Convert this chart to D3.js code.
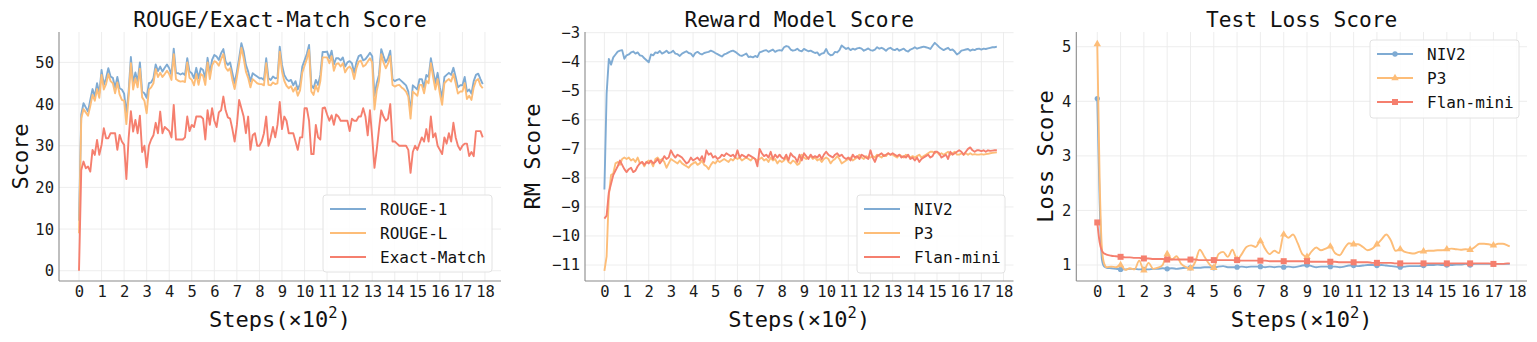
<!DOCTYPE html>
<html><head><meta charset="utf-8">
<script src="https://cdn.jsdelivr.net/npm/d3@7"></script>
<style>body{margin:0;background:#fff}svg{display:block}</style>
</head><body><svg id="c" width="1537" height="342"></svg>
<script>
// ---------- data ----------
const xTicks = [0,1,2,3,4,5,6,7,8,9,10,11,12,13,14,15,16,17,18];
const colors = {blue:"#7fabd3", orange:"#fdbd78", red:"#f57f6e"};

// Panel 1: steps in units of 100 (every 10 steps)
const rougeSteps = d3.range(180).map(i => i / 10);
const rouge1 = [
12,37.5,40.2,39.2,38.2,41,43.6,41.8,45,42.6,
48.2,44.6,46.2,48.6,46.6,46.3,43.9,46.5,43.8,43.5,
42.5,37.8,43,51.3,45,47.6,45.4,50,43,42.6,
41.5,45,45.2,46.2,49.5,47.9,49,47.8,48.7,49.5,
48.6,47,53.3,47.5,47.4,47.1,47.4,47,51,47.8,
47.4,46.2,48.7,46.2,48.6,48.2,46.2,51.1,47.4,50.6,
51.8,51.4,50.6,52.2,53.2,50.2,49.4,50,47.4,45,
47.8,51,54.6,52.6,49.4,47.8,45.4,47.4,47,46.6,
46.2,46.2,45.8,51,46.2,45.8,46.6,46.2,46.3,53.8,
49.4,47,46,45.5,45.8,44.5,45.5,43.5,44.8,49,
50.5,52,54.2,44.6,43.8,45.8,44.6,47,52.5,52.5,
52.6,51,52.8,49.5,51,51,50.5,51.2,49,50,
50.3,49.8,47.5,50,51.5,51.8,50.5,50.8,51.5,52.3,
51.5,42,45,47,53.2,51.5,50,51,52.8,46,
45.5,45.8,46,45.5,45,44.5,43,38,44.5,44,
43.5,46,46,44,47,46.5,51,48,45,47.5,
44,41.5,46.5,47,47.5,47,48.7,46.5,44,44.5,
44.5,46.5,43,43.5,42.5,45.5,47,47.3,46,44.8];
const rougeL = [
9,36.5,38.8,38,37.2,39.5,42.2,40.8,43.6,41.5,
47,43.5,44.8,47.2,45.5,45,42.6,45.2,42.3,41,
40.8,35.2,41.8,49.8,43.5,46.2,44,48.5,41.6,40.8,
37.8,43.5,44,45,48.4,46.5,47.5,46.5,47.2,48,
47.2,45.8,52,46,45.6,45.4,45.5,45.3,50,46.3,
45.8,44.5,47.2,44.6,47.2,46.8,44.6,50,46,49.3,
50.3,50,49.2,50.8,52,48.8,48,48.6,45.8,43.6,
46.5,49.8,53.5,51,47.8,46.3,44,46,45.5,45,
44.8,44.8,44.5,49.8,44.6,44.5,45.2,44.8,45,52.6,
47.8,45.6,44.4,43.8,44.3,43,44,42,43.3,47.5,
49.2,50.8,53,43,42.2,44.5,43,45.5,51.2,51.2,
51.2,49.8,51.5,48,49.6,49.8,49,49.8,47.6,48.6,
49,48.3,46,48.6,50.2,50.4,49,49.4,50.2,51,
50,38.7,43.2,45.6,52,50,48.6,49.7,51.5,44.6,
44.2,44.5,44.6,44,43.6,43,41.8,36.5,43,42.5,
42,44.6,44.6,42.6,45.6,45,49.8,46.5,43.5,46,
42.5,39.8,45,45.6,46,45.4,47.2,45,42.5,43,
43,45,41.2,42,41,44,45.6,46,44.5,43.8];
const exactMatch = [
0,24.2,26.2,24.6,25,23.8,29,27.8,31.4,27.8,
30.2,34.2,31.8,31.8,33,33,33,29,32.6,31,
30.2,22,31.8,38.3,33.4,36.2,33,37.2,28.5,30,
24.8,30,31.5,32.5,35.5,33,38.2,33,34.5,34,
33.5,32,39.8,31.5,31.5,31.5,31.5,32,37,33.5,
35,34.5,37,37,37,36.5,31.5,38.5,35,39,
36,34.5,38,38.5,41.8,38.5,36.8,36.5,34,31,
35,41,39,37,33,37,29,32.5,33,30,
30,31,33,37,30,32,34.5,32,35,40.5,
34,37,36,33,33,33,31,29,32,32,
39,39,36,28,28,35,32,31.5,39,39.2,
37.5,36,37.3,35,37.5,37,36,36,36,36,
33.5,36.5,36,36,37,37,39,37,32.5,38.5,
32,24.7,29,34,38.5,37,36,36.5,40,31,
31,30.5,30,30,30,30,29,23.5,28.5,30,
29,30.5,32,31,34,31,37,32,33,30,
29,28,32,30.5,33,31,35.5,32,30,29,
30,30.5,30.5,27.5,28.5,27.5,33.5,33.5,33.5,32];

// Panel 2: reward model score
const rmSteps = d3.range(178).map(i => i / 10);
const rmNIV2 = [
-8.4,-5.1,-3.9,-4.1,-3.85,-3.75,-3.65,-3.62,-3.6,-3.9,
-3.78,-3.75,-3.68,-3.65,-3.72,-3.68,-3.78,-3.8,-3.88,-3.95,
-4.02,-3.75,-3.78,-3.68,-3.7,-3.63,-3.72,-3.68,-3.62,-3.7,
-3.68,-3.62,-3.72,-3.74,-3.8,-3.72,-3.68,-3.64,-3.7,-3.72,
-3.82,-3.7,-3.66,-3.72,-3.75,-3.7,-3.68,-3.66,-3.62,-3.65,
-3.7,-3.74,-3.78,-3.82,-3.75,-3.72,-3.68,-3.64,-3.62,-3.66,
-3.72,-3.78,-3.8,-3.76,-3.72,-3.84,-3.82,-3.85,-3.8,-3.84,
-3.68,-3.65,-3.62,-3.6,-3.66,-3.62,-3.58,-3.66,-3.62,-3.6,
-3.62,-3.5,-3.46,-3.48,-3.58,-3.62,-3.6,-3.55,-3.62,-3.64,
-3.56,-3.6,-3.64,-3.62,-3.66,-3.7,-3.68,-3.78,-3.72,-3.7,
-3.56,-3.72,-3.78,-3.76,-3.66,-3.68,-3.6,-3.44,-3.5,-3.56,
-3.52,-3.6,-3.55,-3.58,-3.54,-3.52,-3.55,-3.62,-3.58,-3.54,
-3.6,-3.62,-3.58,-3.5,-3.55,-3.52,-3.56,-3.62,-3.55,-3.52,
-3.58,-3.6,-3.55,-3.62,-3.58,-3.55,-3.62,-3.65,-3.58,-3.55,
-3.5,-3.55,-3.52,-3.5,-3.48,-3.5,-3.52,-3.56,-3.45,-3.35,
-3.42,-3.5,-3.55,-3.6,-3.56,-3.52,-3.6,-3.58,-3.65,-3.75,
-3.7,-3.62,-3.6,-3.58,-3.56,-3.62,-3.58,-3.6,-3.56,-3.55,
-3.58,-3.55,-3.56,-3.54,-3.52,-3.5,-3.5,-3.48];
const rmP3 = [
-11.2,-10.7,-8.6,-7.9,-7.85,-7.5,-7.45,-7.55,-7.35,-7.3,
-7.35,-7.3,-7.4,-7.35,-7.45,-7.3,-7.5,-7.45,-7.6,-7.45,
-7.4,-7.45,-7.6,-7.35,-7.3,-7.4,-7.35,-7.45,-7.65,-7.5,
-7.35,-7.4,-7.45,-7.5,-7.4,-7.5,-7.55,-7.6,-7.65,-7.55,
-7.5,-7.45,-7.55,-7.5,-7.4,-7.55,-7.6,-7.7,-7.55,-7.45,
-7.5,-7.4,-7.45,-7.4,-7.35,-7.4,-7.45,-7.35,-7.4,-7.3,
-7.35,-7.3,-7.4,-7.35,-7.3,-7.35,-7.4,-7.3,-7.35,-7.4,
-7.35,-7.3,-7.4,-7.35,-7.45,-7.3,-7.4,-7.35,-7.5,-7.4,
-7.45,-7.4,-7.3,-7.45,-7.5,-7.4,-7.45,-7.55,-7.5,-7.2,
-7.3,-7.35,-7.3,-7.25,-7.35,-7.3,-7.4,-7.35,-7.45,-7.35,
-7.3,-7.35,-7.5,-7.4,-7.35,-7.25,-7.35,-7.5,-7.45,-7.4,
-7.35,-7.3,-7.4,-7.35,-7.3,-7.2,-7.3,-7.35,-7.25,-7.3,
-7.3,-7.25,-7.3,-7.2,-7.25,-7.3,-7.2,-7.25,-7.15,-7.2,
-7.2,-7.25,-7.3,-7.2,-7.25,-7.3,-7.2,-7.25,-7.3,-7.25,
-7.3,-7.25,-7.2,-7.3,-7.25,-7.2,-7.15,-7.1,-7.1,-7.15,
-7.1,-7.2,-7.15,-7.2,-7.15,-7.1,-7.2,-7.15,-7.1,-7.2,
-7.2,-7.15,-7.2,-7.15,-7.2,-7.15,-7.2,-7.18,-7.2,-7.2,
-7.18,-7.2,-7.18,-7.17,-7.15,-7.14,-7.13,-7.12];
const rmFlan = [
-9.4,-9.3,-8.5,-8.2,-7.9,-7.75,-7.6,-7.4,-7.55,-7.7,
-7.8,-7.7,-7.65,-7.8,-7.75,-7.6,-7.5,-7.45,-7.55,-7.45,
-7.5,-7.4,-7.5,-7.45,-7.35,-7.5,-7.4,-7.25,-7.35,-7.3,
-7.05,-7.2,-7.3,-7.2,-7.25,-7.3,-7.4,-7.5,-7.45,-7.3,
-7.4,-7.35,-7.3,-7.4,-7.25,-7.45,-7.05,-7.2,-7.15,-7.3,
-7.25,-7.35,-7.3,-7.2,-7.25,-7.15,-7.2,-7.25,-7.2,-7.3,
-7.05,-7.3,-7.2,-7.25,-7.3,-7.2,-7.25,-7.3,-7.35,-7.6,
-7.0,-7.15,-7.25,-7.2,-7.3,-7.1,-7.35,-7.2,-7.3,-7.2,
-7.3,-7.35,-7.2,-7.4,-7.15,-7.25,-7.3,-7.45,-7.2,-7.4,
-7.15,-7.25,-7.35,-7.2,-7.3,-7.25,-7.3,-7.2,-7.35,-7.2,
-7.1,-7.2,-7.25,-7.3,-7.2,-7.15,-7.25,-7.2,-7.3,-7.35,
-7.3,-7.4,-7.2,-7.3,-7.25,-7.35,-7.2,-7.25,-7.3,-7.35,
-7.05,-7.3,-7.45,-7.25,-7.2,-7.15,-7.25,-7.2,-7.15,-7.2,
-7.15,-7.2,-7.25,-7.2,-7.3,-7.25,-7.3,-7.2,-7.35,-7.3,
-7.4,-7.3,-7.45,-7.35,-7.3,-7.25,-7.2,-7.3,-7.25,-7.1,
-7.1,-7.15,-7.3,-7.25,-7.2,-7.35,-7.1,-7.2,-7.15,-7.1,
-7.05,-7.1,-7.2,-7.1,-7.0,-6.95,-7.05,-7.1,-7.05,-7.05,
-7.08,-7.05,-7.1,-7.05,-7.07,-7.06,-7.05,-7.05];

// Panel 3: test loss
const lossSteps = [0,0.1,0.2,0.3,0.4,0.6,0.8,1,1.2,1.4,1.6,1.8,2,2.2,2.4,2.6,2.8,3,3.2,3.4,3.6,3.8,4,4.2,4.4,4.6,4.8,5,5.2,5.4,5.6,5.8,6,6.2,6.4,6.6,6.8,7,7.2,7.4,7.6,7.8,8,8.2,8.4,8.6,8.8,9,9.2,9.4,9.6,9.8,10,10.2,10.4,10.6,10.8,11,11.2,11.4,11.6,11.8,12,12.2,12.4,12.6,12.8,13,13.2,13.4,13.6,13.8,14,14.2,14.4,14.6,14.8,15,15.2,15.4,15.6,15.8,16,16.2,16.4,16.6,16.8,17,17.2,17.4,17.6,17.7];
const lossNIV2 = [4.05,2.2,1.1,0.97,0.95,0.94,0.93,0.92,0.92,0.93,0.93,0.92,0.92,0.92,0.93,0.93,0.94,0.93,0.94,0.93,0.94,0.95,0.95,0.95,0.95,0.96,0.96,0.95,0.97,0.98,0.96,0.96,0.96,0.97,0.96,0.97,0.97,0.97,0.96,0.97,0.96,0.97,0.96,0.97,0.96,0.97,0.99,1.0,0.98,0.96,0.97,0.97,0.97,0.97,0.96,0.97,0.99,0.99,0.98,0.99,1.0,1.0,0.99,1.0,0.99,0.98,0.97,0.96,0.97,0.98,0.98,0.98,0.99,1.0,1.0,1.01,1.0,1.0,1.0,1.01,1.01,1.02,1.0,1.02,1.02,1.02,1.02,1.02,1.02,1.02,1.02,1.02];
const lossP3 = [5.05,2.6,1.3,1.02,0.96,0.97,0.96,1.0,0.91,0.94,0.92,1.08,0.9,1.04,0.93,0.95,1.0,1.2,1.1,1.16,1.02,0.96,0.94,1.05,1.28,1.15,1.02,0.95,1.2,1.24,1.15,1.28,1.1,1.2,1.33,1.36,1.33,1.44,1.3,1.2,1.26,1.22,1.56,1.5,1.56,1.4,1.2,1.15,1.25,1.32,1.27,1.3,1.34,1.22,1.18,1.3,1.4,1.38,1.38,1.33,1.27,1.3,1.38,1.47,1.56,1.45,1.26,1.29,1.24,1.22,1.21,1.24,1.25,1.26,1.26,1.27,1.27,1.29,1.3,1.29,1.28,1.29,1.28,1.33,1.39,1.39,1.38,1.36,1.39,1.39,1.36,1.34];
const lossFlan = [1.78,1.42,1.26,1.21,1.19,1.17,1.16,1.15,1.14,1.14,1.13,1.13,1.12,1.12,1.11,1.11,1.11,1.1,1.1,1.1,1.1,1.1,1.1,1.1,1.09,1.09,1.09,1.09,1.09,1.09,1.09,1.09,1.09,1.08,1.08,1.08,1.08,1.08,1.08,1.07,1.07,1.07,1.07,1.07,1.07,1.07,1.07,1.07,1.06,1.06,1.06,1.06,1.06,1.06,1.05,1.05,1.05,1.05,1.05,1.05,1.05,1.04,1.04,1.04,1.04,1.04,1.03,1.03,1.03,1.03,1.03,1.03,1.03,1.03,1.03,1.03,1.03,1.03,1.03,1.03,1.03,1.03,1.03,1.03,1.03,1.03,1.03,1.02,1.02,1.02,1.03,1.03];

const ticks1 = [0,10,20,30,40,50];
const ticks2 = [-11,-10,-9,-8,-7,-6,-5,-4,-3];
const ticks3 = [1,2,3,4,5];

// ---------- drawing ----------
const svg = d3.select("#c");
const MONO = "'DejaVu Sans Mono', monospace";

function panel(cfg) {
  const g = svg.append("g");
  const x = d3.scaleLinear().domain(cfg.xDomain).range([cfg.left, cfg.right]);
  const y = d3.scaleLinear().domain(cfg.yDomain).range([cfg.bottom, cfg.top]);

  // grid
  g.append("g").selectAll("line").data(xTicks).join("line")
    .attr("x1", d => x(d)).attr("x2", d => x(d)).attr("y1", cfg.top).attr("y2", cfg.bottom)
    .attr("stroke", "#ebebeb").attr("stroke-width", 0.9);
  g.append("g").selectAll("line").data(cfg.yTicks).join("line")
    .attr("x1", cfg.left).attr("x2", cfg.right).attr("y1", d => y(d)).attr("y2", d => y(d))
    .attr("stroke", "#ebebeb").attr("stroke-width", 0.9);

  // axes
  const xa = g.append("g").attr("transform", `translate(0,${cfg.bottom})`)
    .call(d3.axisBottom(x).tickValues(xTicks).tickSize(0).tickPadding(5).tickFormat(d3.format("d")));
  const ya = g.append("g").attr("transform", `translate(${cfg.left},0)`)
    .call(d3.axisLeft(y).tickValues(cfg.yTicks).tickSize(0).tickPadding(5).tickFormat(d3.format("d")));
  [xa, ya].forEach(a => {
    a.select(".domain").attr("stroke", "#8a8a8a").attr("stroke-width", 1.1);
    a.selectAll("text").attr("font-family", MONO).attr("font-size", 15.5).attr("fill", "#1a1a1a");
  });
  xa.select(".domain").attr("d", `M${cfg.left},0H${cfg.right}`);
  ya.select(".domain").attr("d", `M0,${cfg.top}V${cfg.bottom}`);

  // lines
  cfg.series.forEach(s => {
    const pts = s.xs.map((v, i) => [v, s.ys[i]]);
    const line = d3.line().x(d => x(d[0])).y(d => y(d[1]));
    if (s.curve) line.curve(s.curve);
    g.append("path").datum(pts).attr("d", line).attr("fill", "none")
      .attr("stroke", s.color).attr("stroke-width", 1.9).attr("stroke-linejoin", "round");
    if (s.marker) {
      const sym = d3.symbol().type(s.marker).size(s.msize);
      g.append("g").selectAll("path").data(pts.filter(d => Number.isInteger(d[0]))).join("path")
        .attr("d", sym).attr("transform", d => `translate(${x(d[0])},${y(d[1])})`)
        .attr("fill", s.color);
    }
  });

  // title
  g.append("text").attr("x", (cfg.left + cfg.right) / 2).attr("y", 26.5)
    .attr("text-anchor", "middle").attr("font-family", MONO).attr("font-size", 21.2)
    .attr("fill", "#111").text(cfg.title);
  // x label
  const xl = g.append("text").attr("x", (cfg.left + cfg.right) / 2).attr("y", 327)
    .attr("text-anchor", "middle").attr("font-family", MONO).attr("font-size", 22).attr("fill", "#111");
  xl.append("tspan").text("Steps(×10");
  xl.append("tspan").attr("dy", -9).attr("font-size", 15.5).text("2");
  xl.append("tspan").attr("dy", 9).text(")");
  // y label
  g.append("text").attr("transform", `translate(${cfg.ylabelX},${(cfg.top + cfg.bottom) / 2}) rotate(-90)`)
    .attr("text-anchor", "middle").attr("dy", "0.35em").attr("font-family", MONO).attr("font-size", 22)
    .attr("fill", "#111").text(cfg.ylabel);

  // legend
  const L = cfg.legend;
  const lg = g.append("g");
  lg.append("rect").attr("x", L.x).attr("y", L.y).attr("width", L.w).attr("height", L.h)
    .attr("rx", 3).attr("fill", "#fff").attr("fill-opacity", 0.85).attr("stroke", "#e2e2e2");
  cfg.series.forEach((s, i) => {
    const yy = L.y + 14 + i * 24;
    lg.append("line").attr("x1", L.x + 7).attr("x2", L.x + 43).attr("y1", yy).attr("y2", yy)
      .attr("stroke", s.color).attr("stroke-width", 1.9);
    if (s.marker) {
      lg.append("path").attr("d", d3.symbol().type(s.marker).size(s.msize))
        .attr("transform", `translate(${L.x + 25},${yy})`).attr("fill", s.color);
    }
    lg.append("text").attr("x", L.x + 57).attr("y", yy).attr("dy", "0.35em")
      .attr("font-family", MONO).attr("font-size", 16).attr("fill", "#111").text(s.name);
  });
}

panel({
  left: 59, right: 501, top: 32, bottom: 281,
  xDomain: [-0.887, 18.71], yDomain: [-2.47, 57.3], yTicks: ticks1,
  title: "ROUGE/Exact-Match Score", ylabel: "Score", ylabelX: 20.5,
  legend: {x: 323, y: 195, w: 169, h: 77},
  series: [
    {name: "ROUGE-1", xs: rougeSteps, ys: rouge1, color: colors.blue},
    {name: "ROUGE-L", xs: rougeSteps, ys: rougeL, color: colors.orange},
    {name: "Exact-Match", xs: rougeSteps, ys: exactMatch, color: colors.red}
  ]
});

panel({
  left: 585, right: 1013.5, top: 32, bottom: 281,
  xDomain: [-0.875, 18.45], yDomain: [-11.55, -2.976], yTicks: ticks2,
  title: "Reward Model Score", ylabel: "RM Score", ylabelX: 532.5,
  legend: {x: 857, y: 195, w: 148, h: 78},
  series: [
    {name: "NIV2", xs: rmSteps, ys: rmNIV2, color: colors.blue},
    {name: "P3", xs: rmSteps, ys: rmP3, color: colors.orange},
    {name: "Flan-mini", xs: rmSteps, ys: rmFlan, color: colors.red}
  ]
});

panel({
  left: 1076.3, right: 1527, top: 32, bottom: 281,
  xDomain: [-0.9, 18.44], yDomain: [0.707, 5.27], yTicks: ticks3,
  title: "Test Loss Score", ylabel: "Loss Score", ylabelX: 1045,
  legend: {x: 1370, y: 40, w: 149, h: 78},
  series: [
    {name: "NIV2", xs: lossSteps, ys: lossNIV2, color: colors.blue, marker: d3.symbolCircle, msize: 22, curve: d3.curveMonotoneX},
    {name: "P3", xs: lossSteps, ys: lossP3, color: colors.orange, marker: d3.symbolTriangle, msize: 24, curve: d3.curveMonotoneX},
    {name: "Flan-mini", xs: lossSteps, ys: lossFlan, color: colors.red, marker: d3.symbolSquare, msize: 36, curve: d3.curveMonotoneX}
  ]
});
</script></body></html>
